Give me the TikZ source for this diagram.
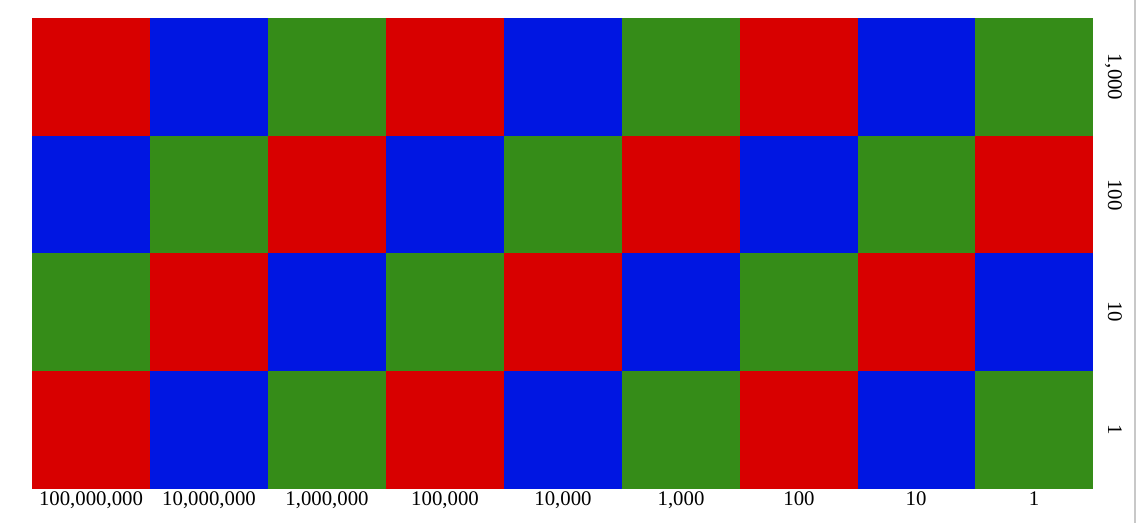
\documentclass[tikz,border=0pt]{standalone}
\usepackage{fontspec}
\setmainfont{Liberation Serif}
\definecolor{cellred}{RGB}{216,0,0}
\definecolor{cellblue}{RGB}{0,22,226}
\definecolor{cellgreen}{RGB}{53,140,24}
\begin{document}
\begin{tikzpicture}[x=0.75pt,y=0.75pt,yscale=-1,xscale=1]
\tikzset{placeval/.style={anchor=base,inner sep=0.75pt,font=\fontsize{15.6}{17}\selectfont}}
\useasboundingbox (0,0) rectangle (1140,523);

%Shape: Rows of squares
% row 1
\fill [cellred]   (32,18) rectangle (150,136) ;
\fill [cellblue]  (150,18) rectangle (268,136) ;
\fill [cellgreen] (268,18) rectangle (386,136) ;
\fill [cellred]   (386,18) rectangle (504,136) ;
\fill [cellblue]  (504,18) rectangle (622,136) ;
\fill [cellgreen] (622,18) rectangle (740,136) ;
\fill [cellred]   (740,18) rectangle (858,136) ;
\fill [cellblue]  (858,18) rectangle (975,136) ;
\fill [cellgreen] (975,18) rectangle (1093,136) ;
% row 2
\fill [cellblue]  (32,136) rectangle (150,253) ;
\fill [cellgreen] (150,136) rectangle (268,253) ;
\fill [cellred]   (268,136) rectangle (386,253) ;
\fill [cellblue]  (386,136) rectangle (504,253) ;
\fill [cellgreen] (504,136) rectangle (622,253) ;
\fill [cellred]   (622,136) rectangle (740,253) ;
\fill [cellblue]  (740,136) rectangle (858,253) ;
\fill [cellgreen] (858,136) rectangle (975,253) ;
\fill [cellred]   (975,136) rectangle (1093,253) ;
% row 3
\fill [cellgreen] (32,253) rectangle (150,371) ;
\fill [cellred]   (150,253) rectangle (268,371) ;
\fill [cellblue]  (268,253) rectangle (386,371) ;
\fill [cellgreen] (386,253) rectangle (504,371) ;
\fill [cellred]   (504,253) rectangle (622,371) ;
\fill [cellblue]  (622,253) rectangle (740,371) ;
\fill [cellgreen] (740,253) rectangle (858,371) ;
\fill [cellred]   (858,253) rectangle (975,371) ;
\fill [cellblue]  (975,253) rectangle (1093,371) ;
% row 4
\fill [cellred]   (32,371) rectangle (150,489) ;
\fill [cellblue]  (150,371) rectangle (268,489) ;
\fill [cellgreen] (268,371) rectangle (386,489) ;
\fill [cellred]   (386,371) rectangle (504,489) ;
\fill [cellblue]  (504,371) rectangle (622,489) ;
\fill [cellgreen] (622,371) rectangle (740,489) ;
\fill [cellred]   (740,371) rectangle (858,489) ;
\fill [cellblue]  (858,371) rectangle (975,489) ;
\fill [cellgreen] (975,371) rectangle (1093,489) ;

%Straight Lines: right border
\draw [color={rgb, 255:red, 200; green, 200; blue, 200 }, line width=0.9] (1135,0) -- (1135,523) ;

% Text Node: column values
\node [placeval] (c1) at (91,506) {100,000,000};
\node [placeval] (c2) at (209,506) {10,000,000};
\node [placeval] (c3) at (327,506) {1,000,000};
\node [placeval] (c4) at (445,506) {100,000};
\node [placeval] (c5) at (563,506) {10,000};
\node [placeval] (c6) at (681,506) {1,000};
\node [placeval] (c7) at (799,506) {100};
\node [placeval] (c8) at (916,506) {10};
\node [placeval] (c9) at (1034,506) {1};
% Text Node: row values
\node [placeval,rotate=-90] (r1) at (1108,77) {1,000};
\node [placeval,rotate=-90] (r2) at (1108,195) {100};
\node [placeval,rotate=-90] (r3) at (1108,312) {10};
\node [placeval,rotate=-90] (r4) at (1108,430) {1};
\end{tikzpicture}
\end{document}
